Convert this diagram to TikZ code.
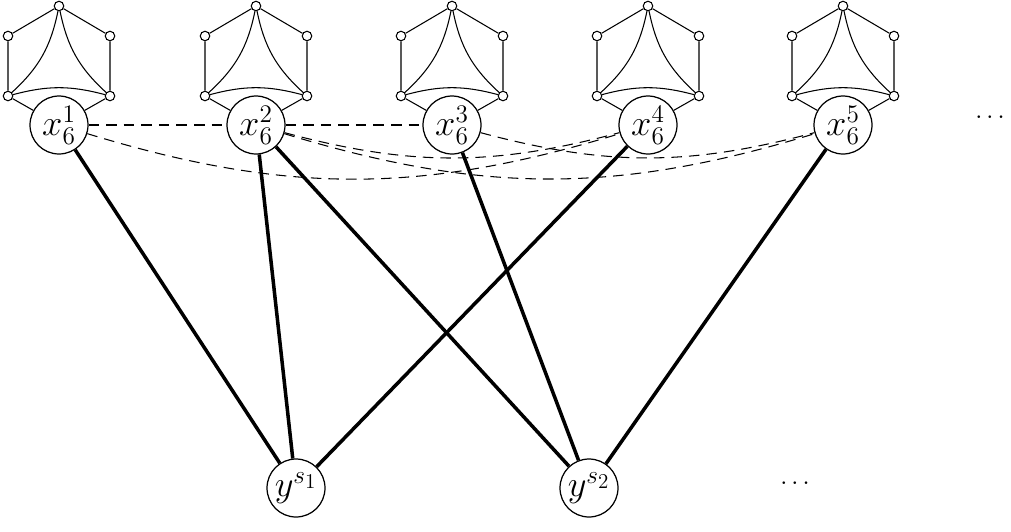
\documentclass[tikz,border=0pt]{standalone}
\begin{document}
\begin{tikzpicture}[x=0.02cm,y=-0.02cm,
  sv/.style={circle,draw,fill=white,inner sep=0pt,minimum size=0.19cm,line width=0.6pt},
  big/.style={circle,draw,fill=white,inner sep=0pt,minimum size=1.16cm,font=\huge,line width=0.7pt},
  th/.style={line width=2pt},
  da/.style={dash pattern=on 6pt off 4pt,line width=0.6pt},
  ge/.style={line width=0.6pt}]
\useasboundingbox (0,0) rectangle (1011,531);
\foreach \i/\cx in {1/59,2/256,3/452,4/648,5/843}{
  \node[big] (x\i) at (\cx,125) {$x_6^{\i}$};
  \node[sv] (t\i) at (\cx,6) {};
  \node[sv] (l\i) at (\cx-51,36) {};
  \node[sv] (r\i) at (\cx+51,36) {};
  \node[sv] (bl\i) at (\cx-51,96) {};
  \node[sv] (br\i) at (\cx+51,96) {};
  \draw[ge] (t\i)--(l\i)--(bl\i)--(x\i)--(br\i)--(r\i)--(t\i);
  \draw[ge] (t\i) to[bend left=18] (bl\i);
  \draw[ge] (t\i) to[bend right=18] (br\i);
  \draw[ge] (bl\i) to[bend left=15] (br\i);
}
\node[big] (y1) at (296,488) {$y^{s_1}$};
\node[big] (y2) at (589,488) {$y^{s_2}$};
\node[font=\Large] (d1) at (990,118) {$\cdots$};
\node[font=\Large] (d2) at (795,484) {$\cdots$};
\draw[da] (x1)--(x2); \draw[da] (x2)--(x3);
\draw[da] (x1) to[bend right=17] (x4);
\draw[da] (x2) to[bend right=15] (x4);
\draw[da] (x2) to[bend right=17] (x5);
\draw[da] (x3) to[bend right=15] (x5);
\draw[th] (x1)--(y1); \draw[th] (x2)--(y1); \draw[th] (x4)--(y1);
\draw[th] (x2)--(y2); \draw[th] (x3)--(y2); \draw[th] (x5)--(y2);
\end{tikzpicture}
\end{document}
